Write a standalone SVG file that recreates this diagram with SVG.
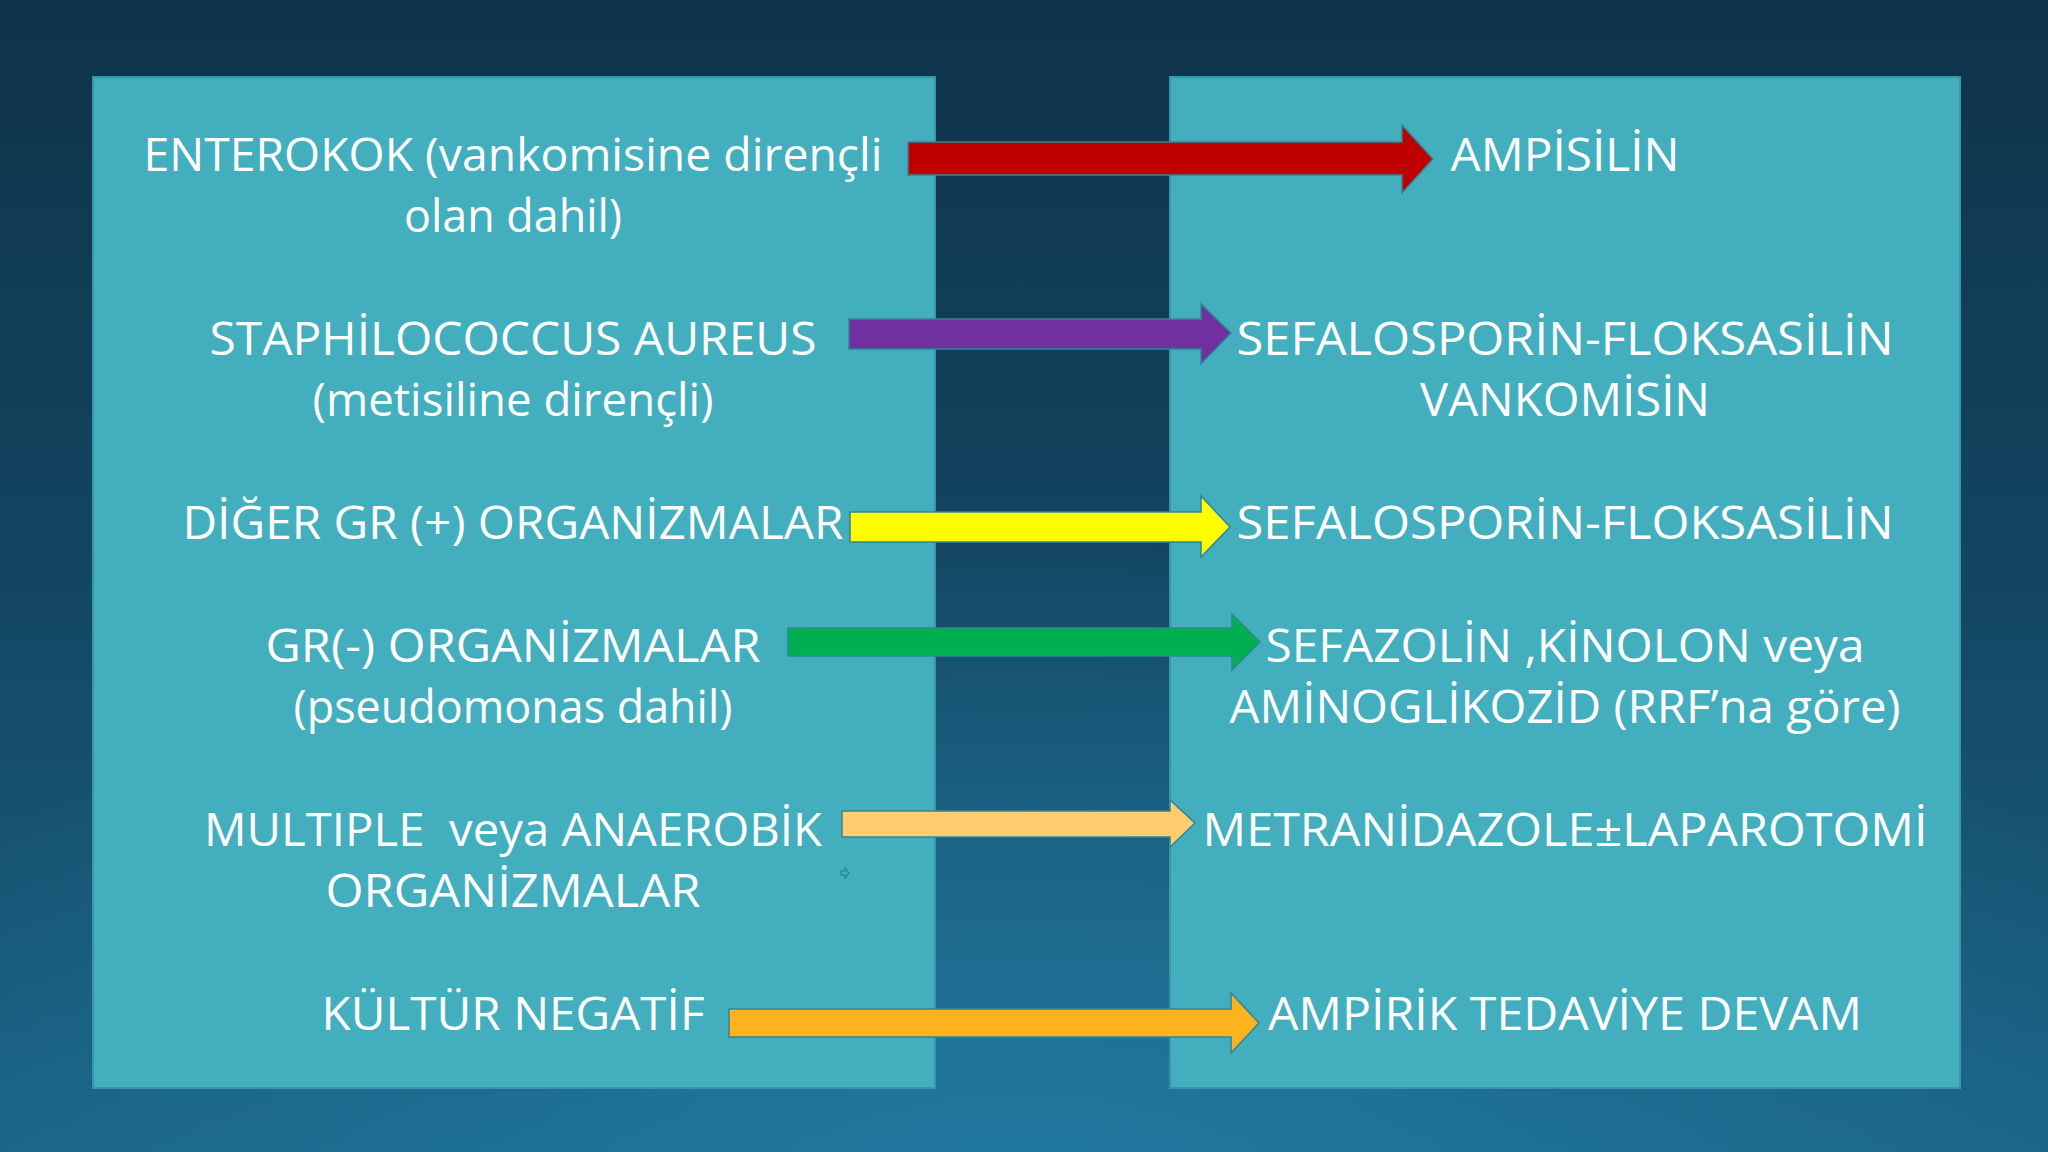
<svg xmlns="http://www.w3.org/2000/svg" width="2048" height="1152" viewBox="0 0 2048 1152">
<defs>
<linearGradient id="bg" x1="0" y1="0" x2="0" y2="1">
<stop offset="0" stop-color="#0f3349"/>
<stop offset="0.5" stop-color="#134662"/>
<stop offset="1" stop-color="#1a6385"/>
</linearGradient>
<radialGradient id="glow" cx="0.5" cy="1.05" r="0.6">
<stop offset="0" stop-color="#2584ad" stop-opacity="0.7"/>
<stop offset="1" stop-color="#2584ad" stop-opacity="0"/>
</radialGradient>
<style>
.panel{fill:#42aebe;stroke:#3896a8;stroke-width:2}
.arrow{stroke:#2f8795;stroke-width:1.5;stroke-linejoin:miter}
text{font-family:"Open Sans","Liberation Sans",sans-serif;font-size:46px;fill:#ffffff;text-anchor:middle;white-space:pre}
</style>
</defs>
<rect width="2048" height="1152" fill="url(#bg)"/>
<rect width="2048" height="1152" fill="url(#glow)"/>
<g id="left-panel"><rect class="panel" x="93" y="77" width="842" height="1011"/></g>
<g id="right-panel"><rect class="panel" x="1170" y="77" width="790" height="1011"/></g>
<g id="connectors">
<path class="arrow" fill="#c00000" d="M908,142 H1402 V125 L1433,159 L1402,193 V175 H908 Z"/>
<path class="arrow" fill="#7030a0" d="M849,319 H1201 V304 L1231,333 L1201,364 V349 H849 Z"/>
<path class="arrow" fill="#ffff00" d="M850,512 H1201 V496 L1230,527 L1201,557 V542 H850 Z"/>
<path class="arrow" fill="#00b050" d="M788,628 H1232 V614 L1260,642 L1232,670 V656 H788 Z"/>
<path class="arrow" fill="#ffcc6e" d="M842,811 H1170 V800 L1195,823 L1170,847 V837 H842 Z"/>
<path class="arrow" fill="#fdb21e" d="M729,1009 H1231 V993 L1259,1023 L1231,1053 V1037 H729 Z"/>
<path fill="none" stroke="#2d8a9c" stroke-width="1.5" d="M841,871 H845 V868 L849,873 L845,878 V875 H841 Z"/>
</g>
<g id="n1-left"><text x="513" y="171" textLength="739" lengthAdjust="spacingAndGlyphs">ENTEROKOK (vankomisine dirençli</text><text x="513" y="232" textLength="218" lengthAdjust="spacingAndGlyphs">olan dahil)</text></g>
<g id="n1-right"><text x="1565" y="171" textLength="229" lengthAdjust="spacingAndGlyphs">AMPİSİLİN</text></g>
<g id="n2-left"><text x="513" y="355" textLength="607" lengthAdjust="spacingAndGlyphs">STAPHİLOCOCCUS AUREUS</text><text x="513" y="416" textLength="401" lengthAdjust="spacingAndGlyphs">(metisiline dirençli)</text></g>
<g id="n2-right"><text x="1565" y="355" textLength="657" lengthAdjust="spacingAndGlyphs">SEFALOSPORİN-FLOKSASİLİN</text><text x="1565" y="416" textLength="290" lengthAdjust="spacingAndGlyphs">VANKOMİSİN</text></g>
<g id="n3-left"><text x="513" y="539" textLength="661" lengthAdjust="spacingAndGlyphs">DİĞER GR (+) ORGANİZMALAR</text></g>
<g id="n3-right"><text x="1565" y="539" textLength="657" lengthAdjust="spacingAndGlyphs">SEFALOSPORİN-FLOKSASİLİN</text></g>
<g id="n4-left"><text x="513" y="662" textLength="495" lengthAdjust="spacingAndGlyphs">GR(-) ORGANİZMALAR</text><text x="513" y="723" textLength="439" lengthAdjust="spacingAndGlyphs">(pseudomonas dahil)</text></g>
<g id="n4-right"><text x="1565" y="662" textLength="599" lengthAdjust="spacingAndGlyphs">SEFAZOLİN ,KİNOLON veya</text><text x="1565" y="723" textLength="671" lengthAdjust="spacingAndGlyphs">AMİNOGLİKOZİD (RRF’na göre)</text></g>
<g id="n5-left"><text x="513" y="846" textLength="618" lengthAdjust="spacingAndGlyphs">MULTIPLE  veya ANAEROBİK</text><text x="513" y="907" textLength="375" lengthAdjust="spacingAndGlyphs">ORGANİZMALAR</text></g>
<g id="n5-right"><text x="1565" y="846" textLength="725" lengthAdjust="spacingAndGlyphs">METRANİDAZOLE±LAPAROTOMİ</text></g>
<g id="n6-left"><text x="513" y="1030" textLength="383" lengthAdjust="spacingAndGlyphs">KÜLTÜR NEGATİF</text></g>
<g id="n6-right"><text x="1565" y="1030" textLength="594" lengthAdjust="spacingAndGlyphs">AMPİRİK TEDAVİYE DEVAM</text></g>
</svg>
